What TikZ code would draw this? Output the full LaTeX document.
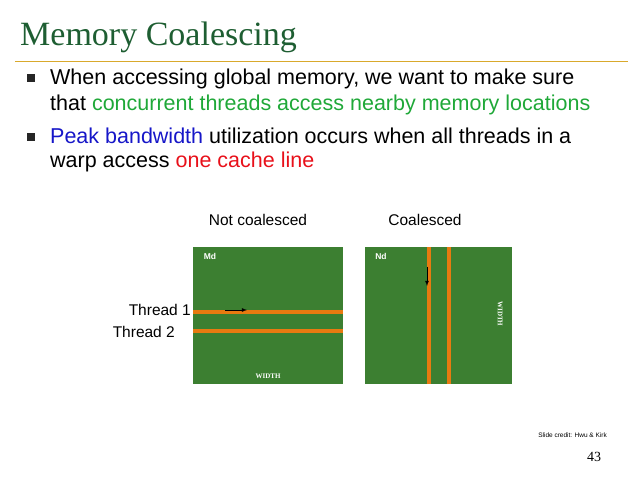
\documentclass[tikz,border=0pt]{standalone}
\usepackage{fontspec}
\setmainfont{Liberation Sans}
\newfontfamily\serifx{Liberation Serif}
\definecolor{titlegreen}{HTML}{1E5E32}
\definecolor{gold}{HTML}{D9A92C}
\definecolor{boxgreen}{HTML}{3C7F31}
\definecolor{stripe}{HTML}{E87A10}
\definecolor{ngreen}{HTML}{1FA838}
\definecolor{nblue}{HTML}{1616C8}
\definecolor{nred}{HTML}{E8101A}
\begin{document}
\begin{tikzpicture}[x=1pt,y=-1pt,
  body/.style={anchor=base west,font=\fontsize{21.5}{24}\selectfont,inner sep=0},
  bul/.style={fill=black!85,minimum size=8pt,inner sep=0},
  box/.style={fill=boxgreen},
  strip/.style={stripe,line width=3.5pt},
  lab/.style={font=\fontsize{15.5}{18}\selectfont,inner sep=0},
  small/.style={text=white,font=\bfseries\fontsize{8.5}{10}\selectfont,inner sep=0},
  wid/.style={text=white,font=\serifx\bfseries\fontsize{7}{8}\selectfont,inner sep=0}]
\useasboundingbox (0,0) rectangle (638,478);
\node[anchor=base west,inner sep=0,text=titlegreen,font=\serifx\fontsize{34}{38}\selectfont] (title) at (20,46) {Memory Coalescing};
\draw[gold,line width=1pt] (15,62) -- (628,62);
\node[bul] (b1) at (31,78) {};
\node[bul] (b2) at (31,137) {};
\node[body] (t1) at (50,85) {When accessing global memory, we want to make sure};
\node[body] (t2) at (50,111) {that \textcolor{ngreen}{concurrent threads access nearby memory locations}};
\node[body] (t3) at (50,144) {\textcolor{nblue}{Peak bandwidth} utilization occurs when all threads in a};
\node[body] (t4) at (50,168) {warp access \textcolor{nred}{one cache line}};
\node[lab] (nc) at (258,220) {Not coalesced};
\node[lab] (co) at (425,220) {Coalesced};
\fill[box] (193,247) rectangle (343,384);
\fill[box] (365,247) rectangle (512,384);
\coordinate (l1a) at (193,312); \coordinate (l1b) at (343,312);
\coordinate (l2a) at (193,331); \coordinate (l2b) at (343,331);
\draw[strip] (l1a) -- (l1b);
\draw[strip] (l2a) -- (l2b);
\coordinate (v1a) at (429,247); \coordinate (v1b) at (429,384);
\coordinate (v2a) at (449,247); \coordinate (v2b) at (449,384);
\draw[strip] (v1a) -- (v1b);
\draw[strip] (v2a) -- (v2b);
\coordinate (a1s) at (225,310); \coordinate (a1e) at (247,310);
\draw[-latex,line width=0.8pt] (a1s) -- (a1e);
\coordinate (a2s) at (427,267); \coordinate (a2e) at (427,286);
\draw[-latex,line width=0.8pt] (a2s) -- (a2e);
\node[small] (md) at (210,256) {Md};
\node[small] (nd) at (381,256) {Nd};
\node[wid] (w1) at (268,376) {WIDTH};
\node[wid,rotate=-90] (w2) at (500,314) {WIDTH};
\node[lab,anchor=east] (th1) at (191,310) {Thread 1};
\node[lab,anchor=east] (th2) at (175,332) {Thread 2};
\node[inner sep=0,font=\fontsize{6.5}{8}\selectfont,anchor=east] (cr) at (607,435) {Slide credit: Hwu \& Kirk};
\node[inner sep=0,font=\serifx\fontsize{14}{16}\selectfont] (pg) at (594,457) {43};
\end{tikzpicture}
\end{document}
